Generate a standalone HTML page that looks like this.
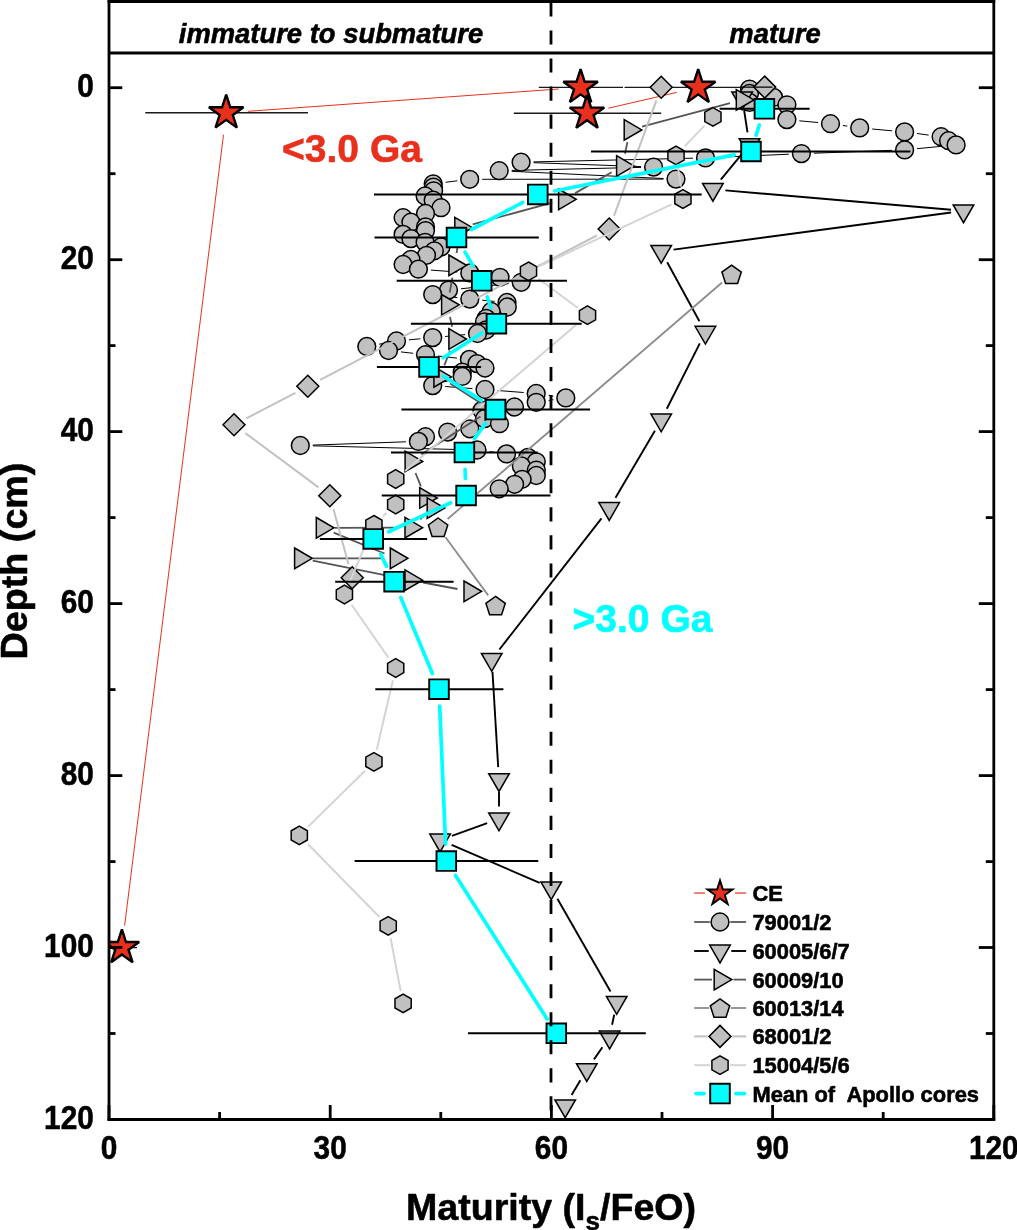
<!DOCTYPE html><html><head><meta charset="utf-8"><title>Maturity vs Depth</title>
<style>html,body{margin:0;padding:0;background:#fff}svg{display:block}text{font-family:"Liberation Sans",Arial,sans-serif;font-weight:bold;fill:#000;stroke:#000;stroke-width:0.55px;stroke-linejoin:round}</style></head><body>
<svg width="1017" height="1230" viewBox="0 0 1017 1230">
<rect width="1017" height="1230" fill="#fff"/>
<defs><clipPath id="pa"><rect x="109.5" y="54" width="884" height="1066"/></clipPath></defs>
<g clip-path="url(#pa)">
<g stroke="#1a1a1a" stroke-width="1.4">
<line x1="107.0" y1="947.6" x2="137.0" y2="947.6"/>
<line x1="145.3" y1="112.7" x2="308.0" y2="112.7"/>
<line x1="538.8" y1="87.4" x2="623.0" y2="87.4"/>
<line x1="513.8" y1="113.2" x2="661.2" y2="113.2"/>
<line x1="624.5" y1="87.4" x2="773.0" y2="87.4"/>
</g>
<g stroke="#e8301c" stroke-width="1.0" fill="none" >
<line x1="124.6" y1="925.8" x2="223.5" y2="134.7"/>
<line x1="248.1" y1="111.3" x2="558.7" y2="89.0"/>
<line x1="608.4" y1="108.2" x2="676.8" y2="92.4"/>
</g>
<g fill="#e8301c" stroke="#000" stroke-width="2.4" stroke-linejoin="miter" stroke-miterlimit="2.2">
<polygon points="121.9,929.4 126.0,942.0 139.2,942.0 128.5,949.7 132.6,962.3 121.9,954.6 111.2,962.3 115.3,949.7 104.6,942.0 117.8,942.0"/>
<polygon points="226.2,94.7 230.3,107.3 243.5,107.3 232.8,115.0 236.9,127.6 226.2,119.9 215.5,127.6 219.6,115.0 208.9,107.3 222.1,107.3"/>
<polygon points="580.6,69.2 584.7,81.8 597.9,81.8 587.2,89.5 591.3,102.1 580.6,94.4 569.9,102.1 574.0,89.5 563.3,81.8 576.5,81.8"/>
<polygon points="587.0,95.0 591.1,107.6 604.3,107.6 593.6,115.3 597.7,127.9 587.0,120.2 576.3,127.9 580.4,115.3 569.7,107.6 582.9,107.6"/>
<polygon points="698.2,69.2 702.3,81.8 715.5,81.8 704.8,89.5 708.9,102.1 698.2,94.4 687.5,102.1 691.6,89.5 680.9,81.8 694.1,81.8"/>
</g>
<g stroke="#000" stroke-width="1.0" fill="none" >
<line x1="762.0" y1="103.2" x2="774.4" y2="104.0"/>
<line x1="799.3" y1="120.8" x2="818.1" y2="122.5"/>
<line x1="842.9" y1="125.5" x2="847.3" y2="126.1"/>
<line x1="872.2" y1="129.0" x2="892.1" y2="130.8"/>
<line x1="917.0" y1="133.5" x2="928.7" y2="135.1"/>
<line x1="943.7" y1="146.1" x2="917.0" y2="148.7"/>
<line x1="892.1" y1="150.3" x2="813.9" y2="153.2"/>
<line x1="788.9" y1="154.2" x2="718.0" y2="157.3"/>
<line x1="693.0" y1="158.2" x2="533.6" y2="161.9"/>
<line x1="533.6" y1="162.7" x2="641.1" y2="166.6"/>
<line x1="641.1" y1="167.4" x2="511.7" y2="170.4"/>
<line x1="511.7" y1="171.3" x2="663.5" y2="178.5"/>
<line x1="663.5" y1="179.1" x2="482.2" y2="179.3"/>
<line x1="457.3" y1="180.8" x2="445.6" y2="182.3"/>
<line x1="430.9" y1="270.1" x2="457.3" y2="272.0"/>
<line x1="482.2" y1="274.7" x2="487.6" y2="275.5"/>
<line x1="508.8" y1="283.6" x2="460.9" y2="288.8"/>
<line x1="445.1" y1="296.1" x2="457.4" y2="297.6"/>
<line x1="482.2" y1="300.2" x2="494.6" y2="301.4"/>
<line x1="465.1" y1="334.6" x2="445.1" y2="336.5"/>
<line x1="420.3" y1="338.8" x2="408.9" y2="339.8"/>
<line x1="384.2" y1="343.3" x2="379.1" y2="344.2"/>
<line x1="400.9" y1="351.9" x2="413.1" y2="353.3"/>
<line x1="437.9" y1="356.0" x2="457.0" y2="358.1"/>
<line x1="450.3" y1="380.1" x2="444.6" y2="381.9"/>
<line x1="445.2" y1="386.5" x2="472.5" y2="388.6"/>
<line x1="497.5" y1="390.5" x2="523.7" y2="392.5"/>
<line x1="548.6" y1="395.3" x2="553.4" y2="396.1"/>
<line x1="553.4" y1="399.7" x2="548.6" y2="400.5"/>
<line x1="502.1" y1="408.3" x2="494.4" y2="409.1"/>
<line x1="487.2" y1="425.8" x2="482.1" y2="426.7"/>
<line x1="405.9" y1="441.8" x2="312.8" y2="445.1"/>
<line x1="312.8" y1="445.8" x2="464.5" y2="449.7"/>
<line x1="489.4" y1="451.6" x2="494.1" y2="452.3"/>
</g>
<g fill="#c0c0c0" stroke="#000" stroke-width="1.5">
<circle cx="749.5" cy="89.1" r="8.9"/>
<circle cx="749.5" cy="93.5" r="8.9"/>
<circle cx="773.6" cy="97.4" r="8.9"/>
<circle cx="749.5" cy="102.4" r="8.9"/>
<circle cx="786.9" cy="104.8" r="8.9"/>
<circle cx="786.9" cy="119.6" r="8.9"/>
<circle cx="830.5" cy="123.7" r="8.9"/>
<circle cx="859.7" cy="127.9" r="8.9"/>
<circle cx="904.6" cy="131.9" r="8.9"/>
<circle cx="941.1" cy="136.7" r="8.9"/>
<circle cx="948.6" cy="140.7" r="8.9"/>
<circle cx="956.1" cy="144.9" r="8.9"/>
<circle cx="904.6" cy="149.9" r="8.9"/>
<circle cx="801.4" cy="153.6" r="8.9"/>
<circle cx="705.5" cy="157.9" r="8.9"/>
<circle cx="521.1" cy="162.2" r="8.9"/>
<circle cx="653.6" cy="167.1" r="8.9"/>
<circle cx="499.2" cy="170.7" r="8.9"/>
<circle cx="676.0" cy="179.1" r="8.9"/>
<circle cx="469.7" cy="179.3" r="8.9"/>
<circle cx="433.2" cy="183.8" r="8.9"/>
<circle cx="433.4" cy="187.1" r="8.9"/>
<circle cx="433.6" cy="190.8" r="8.9"/>
<circle cx="425.1" cy="196.0" r="8.9"/>
<circle cx="433.2" cy="200.2" r="8.9"/>
<circle cx="441.0" cy="207.7" r="8.9"/>
<circle cx="425.5" cy="213.5" r="8.9"/>
<circle cx="403.1" cy="217.7" r="8.9"/>
<circle cx="410.9" cy="222.2" r="8.9"/>
<circle cx="425.5" cy="226.9" r="8.9"/>
<circle cx="425.5" cy="230.6" r="8.9"/>
<circle cx="403.1" cy="234.4" r="8.9"/>
<circle cx="410.9" cy="238.6" r="8.9"/>
<circle cx="425.1" cy="242.3" r="8.9"/>
<circle cx="441.0" cy="247.0" r="8.9"/>
<circle cx="434.3" cy="250.8" r="8.9"/>
<circle cx="426.5" cy="255.3" r="8.9"/>
<circle cx="410.9" cy="259.5" r="8.9"/>
<circle cx="403.1" cy="264.5" r="8.9"/>
<circle cx="418.4" cy="269.2" r="8.9"/>
<circle cx="469.8" cy="272.9" r="8.9"/>
<circle cx="500.0" cy="277.3" r="8.9"/>
<circle cx="521.2" cy="282.3" r="8.9"/>
<circle cx="448.5" cy="290.1" r="8.9"/>
<circle cx="432.7" cy="294.6" r="8.9"/>
<circle cx="469.8" cy="299.1" r="8.9"/>
<circle cx="507.0" cy="302.5" r="8.9"/>
<circle cx="507.3" cy="307.0" r="8.9"/>
<circle cx="491.2" cy="311.5" r="8.9"/>
<circle cx="486.2" cy="318.4" r="8.9"/>
<circle cx="484.5" cy="321.8" r="8.9"/>
<circle cx="486.0" cy="330.0" r="8.9"/>
<circle cx="477.5" cy="333.5" r="8.9"/>
<circle cx="432.7" cy="337.6" r="8.9"/>
<circle cx="396.5" cy="341.0" r="8.9"/>
<circle cx="366.8" cy="346.5" r="8.9"/>
<circle cx="388.5" cy="350.5" r="8.9"/>
<circle cx="425.5" cy="354.7" r="8.9"/>
<circle cx="469.4" cy="359.4" r="8.9"/>
<circle cx="477.0" cy="363.6" r="8.9"/>
<circle cx="485.0" cy="368.0" r="8.9"/>
<circle cx="462.2" cy="372.2" r="8.9"/>
<circle cx="462.2" cy="376.4" r="8.9"/>
<circle cx="432.7" cy="385.6" r="8.9"/>
<circle cx="485.0" cy="389.5" r="8.9"/>
<circle cx="536.2" cy="393.5" r="8.9"/>
<circle cx="565.8" cy="397.9" r="8.9"/>
<circle cx="536.2" cy="402.3" r="8.9"/>
<circle cx="514.5" cy="407.0" r="8.9"/>
<circle cx="482.0" cy="410.4" r="8.9"/>
<circle cx="484.5" cy="418.7" r="8.9"/>
<circle cx="499.5" cy="423.7" r="8.9"/>
<circle cx="469.8" cy="428.8" r="8.9"/>
<circle cx="447.7" cy="432.1" r="8.9"/>
<circle cx="425.5" cy="436.7" r="8.9"/>
<circle cx="418.4" cy="441.4" r="8.9"/>
<circle cx="300.3" cy="445.5" r="8.9"/>
<circle cx="477.0" cy="450.0" r="8.9"/>
<circle cx="506.5" cy="453.9" r="8.9"/>
<circle cx="527.9" cy="457.4" r="8.9"/>
<circle cx="536.3" cy="461.8" r="8.9"/>
<circle cx="521.3" cy="465.9" r="8.9"/>
<circle cx="536.3" cy="470.1" r="8.9"/>
<circle cx="536.3" cy="475.5" r="8.9"/>
<circle cx="522.1" cy="479.3" r="8.9"/>
<circle cx="514.6" cy="484.3" r="8.9"/>
<circle cx="499.2" cy="488.8" r="8.9"/>
</g>
<g stroke="#000" stroke-width="1.9" fill="none" >
<line x1="744.1" y1="110.2" x2="747.5" y2="132.3"/>
<line x1="741.6" y1="154.3" x2="720.8" y2="179.6"/>
<line x1="725.4" y1="190.4" x2="951.0" y2="209.7"/>
<line x1="951.1" y1="212.5" x2="673.6" y2="249.6"/>
<line x1="667.2" y1="262.3" x2="699.4" y2="321.2"/>
<line x1="699.8" y1="343.4" x2="666.8" y2="408.7"/>
<line x1="654.9" y1="430.7" x2="615.5" y2="497.7"/>
<line x1="601.5" y1="518.4" x2="499.4" y2="649.5"/>
<line x1="492.5" y1="671.9" x2="498.2" y2="767.1"/>
<line x1="499.0" y1="792.1" x2="499.0" y2="806.4"/>
<line x1="487.2" y1="823.1" x2="451.9" y2="835.8"/>
<line x1="451.6" y1="844.9" x2="539.7" y2="882.9"/>
<line x1="557.4" y1="898.7" x2="610.5" y2="991.5"/>
<line x1="614.2" y1="1014.6" x2="612.1" y2="1024.8"/>
<line x1="602.4" y1="1047.2" x2="594.0" y2="1059.4"/>
<line x1="580.4" y1="1080.3" x2="571.6" y2="1095.1"/>
</g>
<g fill="#c0c0c0" stroke="#000" stroke-width="1.5" stroke-linejoin="miter" >
<polygon points="731.8,92.0 752.4,92.0 742.1,109.8"/>
<polygon points="739.2,138.7 759.8,138.7 749.5,156.5"/>
<polygon points="702.6,183.4 723.2,183.4 712.9,201.2"/>
<polygon points="953.2,204.9 973.8,204.9 963.5,222.7"/>
<polygon points="650.9,245.4 671.5,245.4 661.2,263.2"/>
<polygon points="695.1,326.3 715.7,326.3 705.4,344.1"/>
<polygon points="650.9,414.0 671.5,414.0 661.2,431.8"/>
<polygon points="598.9,502.6 619.5,502.6 609.2,520.4"/>
<polygon points="481.4,653.5 502.0,653.5 491.7,671.3"/>
<polygon points="488.7,773.7 509.3,773.7 499.0,791.5"/>
<polygon points="488.7,813.0 509.3,813.0 499.0,830.8"/>
<polygon points="429.8,834.1 450.4,834.1 440.1,851.9"/>
<polygon points="540.9,881.9 561.5,881.9 551.2,899.7"/>
<polygon points="606.4,996.5 627.0,996.5 616.7,1014.3"/>
<polygon points="599.3,1031.1 619.9,1031.1 609.6,1048.9"/>
<polygon points="576.5,1063.7 597.1,1063.7 586.8,1081.5"/>
<polygon points="554.9,1099.9 575.5,1099.9 565.2,1117.7"/>
</g>
<g stroke="#555" stroke-width="1.8" fill="none" >
<line x1="730.0" y1="103.1" x2="642.1" y2="126.7"/>
<line x1="627.4" y1="142.1" x2="625.0" y2="153.8"/>
<line x1="611.6" y1="172.2" x2="575.2" y2="193.1"/>
<line x1="552.3" y1="202.6" x2="472.7" y2="224.4"/>
<line x1="458.7" y1="240.0" x2="456.6" y2="253.0"/>
<line x1="452.4" y1="277.6" x2="449.7" y2="292.5"/>
<line x1="450.0" y1="317.0" x2="452.1" y2="326.8"/>
<line x1="450.1" y1="350.6" x2="444.3" y2="365.3"/>
<line x1="450.2" y1="383.6" x2="480.5" y2="402.9"/>
<line x1="480.5" y1="416.4" x2="421.4" y2="454.6"/>
<line x1="415.5" y1="473.0" x2="420.9" y2="486.4"/>
<line x1="423.6" y1="516.4" x2="420.2" y2="519.4"/>
<line x1="398.3" y1="527.7" x2="334.6" y2="527.8"/>
<line x1="333.7" y1="532.6" x2="384.5" y2="553.5"/>
<line x1="383.6" y1="558.3" x2="312.9" y2="558.3"/>
<line x1="312.7" y1="560.7" x2="398.5" y2="577.8"/>
<line x1="423.1" y1="582.5" x2="457.5" y2="589.0"/>
</g>
<g fill="#c0c0c0" stroke="#000" stroke-width="1.5" stroke-linejoin="miter" >
<polygon points="736.3,89.6 753.9,99.9 736.3,110.2"/>
<polygon points="624.2,119.6 641.8,129.9 624.2,140.2"/>
<polygon points="616.6,155.7 634.2,166.0 616.6,176.3"/>
<polygon points="558.6,189.0 576.2,199.3 558.6,209.6"/>
<polygon points="454.8,217.4 472.4,227.7 454.8,238.0"/>
<polygon points="448.9,255.0 466.5,265.3 448.9,275.6"/>
<polygon points="441.6,294.5 459.2,304.8 441.6,315.1"/>
<polygon points="448.9,328.7 466.5,339.0 448.9,349.3"/>
<polygon points="433.9,366.6 451.5,376.9 433.9,387.2"/>
<polygon points="485.2,399.3 502.8,409.6 485.2,419.9"/>
<polygon points="405.1,451.1 422.7,461.4 405.1,471.7"/>
<polygon points="419.7,487.7 437.3,498.0 419.7,508.3"/>
<polygon points="427.2,497.8 444.8,508.1 427.2,518.4"/>
<polygon points="405.0,517.4 422.6,527.7 405.0,538.0"/>
<polygon points="316.3,517.5 333.9,527.8 316.3,538.1"/>
<polygon points="390.3,548.0 407.9,558.3 390.3,568.6"/>
<polygon points="294.6,548.0 312.2,558.3 294.6,568.6"/>
<polygon points="405.0,569.9 422.6,580.2 405.0,590.5"/>
<polygon points="464.0,581.0 481.6,591.3 464.0,601.6"/>
</g>
<g stroke="#8c8c8c" stroke-width="1.8" fill="none" >
<line x1="722.1" y1="282.5" x2="447.6" y2="519.0"/>
<line x1="445.5" y1="537.3" x2="488.2" y2="595.4"/>
</g>
<g fill="#c0c0c0" stroke="#000" stroke-width="1.5" stroke-linejoin="miter" >
<polygon points="731.6,265.1 741.3,272.1 737.6,283.5 725.6,283.5 721.9,272.1"/>
<polygon points="438.1,518.0 447.8,525.0 444.1,536.4 432.1,536.4 428.4,525.0"/>
<polygon points="495.6,596.3 505.3,603.3 501.6,614.7 489.6,614.7 485.9,603.3"/>
</g>
<g stroke="#c2c2c2" stroke-width="2.0" fill="none" >
<line x1="656.4" y1="100.4" x2="614.0" y2="215.9"/>
<line x1="596.8" y1="235.5" x2="320.2" y2="379.8"/>
<line x1="295.4" y1="392.8" x2="246.4" y2="418.3"/>
<line x1="245.3" y1="433.1" x2="318.5" y2="487.4"/>
<line x1="333.5" y1="509.2" x2="348.5" y2="564.3"/>
</g>
<g fill="#c0c0c0" stroke="#000" stroke-width="1.5" stroke-linejoin="miter" >
<polygon points="764.7,76.1 775.7,87.1 764.7,98.1 753.7,87.1"/>
<polygon points="661.2,76.3 672.2,87.3 661.2,98.3 650.2,87.3"/>
<polygon points="609.2,218.0 620.2,229.0 609.2,240.0 598.2,229.0"/>
<polygon points="307.8,375.3 318.8,386.3 307.8,397.3 296.8,386.3"/>
<polygon points="234.0,413.8 245.0,424.8 234.0,435.8 223.0,424.8"/>
<polygon points="329.8,484.7 340.8,495.7 329.8,506.7 318.8,495.7"/>
<polygon points="352.2,566.8 363.2,577.8 352.2,588.8 341.2,577.8"/>
</g>
<g stroke="#d4d4d4" stroke-width="2.0" fill="none" >
<line x1="704.3" y1="125.9" x2="684.6" y2="146.4"/>
<line x1="678.0" y1="167.7" x2="680.9" y2="186.7"/>
<line x1="671.6" y1="204.3" x2="539.8" y2="266.0"/>
<line x1="538.5" y1="278.8" x2="577.5" y2="307.7"/>
<line x1="578.0" y1="323.3" x2="405.2" y2="470.9"/>
<line x1="386.6" y1="513.0" x2="383.0" y2="516.3"/>
<line x1="369.0" y1="536.3" x2="349.3" y2="583.0"/>
<line x1="351.6" y1="604.8" x2="388.5" y2="657.7"/>
<line x1="392.9" y1="680.2" x2="376.7" y2="749.7"/>
<line x1="365.0" y1="770.7" x2="308.2" y2="826.6"/>
<line x1="308.1" y1="844.3" x2="379.4" y2="917.0"/>
<line x1="390.6" y1="938.2" x2="400.7" y2="991.1"/>
</g>
<g fill="#c0c0c0" stroke="#000" stroke-width="1.5" stroke-linejoin="miter" >
<polygon points="712.9,107.6 721.0,112.2 721.0,121.6 712.9,126.2 704.8,121.6 704.8,112.2"/>
<polygon points="676.0,146.1 684.1,150.8 684.1,160.1 676.0,164.7 667.9,160.1 667.9,150.8"/>
<polygon points="682.9,189.7 691.0,194.3 691.0,203.7 682.9,208.3 674.8,203.7 674.8,194.3"/>
<polygon points="528.5,262.0 536.6,266.7 536.6,275.9 528.5,280.6 520.4,275.9 520.4,266.7"/>
<polygon points="587.5,305.9 595.6,310.6 595.6,319.8 587.5,324.5 579.4,319.8 579.4,310.6"/>
<polygon points="395.7,469.7 403.8,474.4 403.8,483.6 395.7,488.3 387.6,483.6 387.6,474.4"/>
<polygon points="395.7,495.2 403.8,499.9 403.8,509.1 395.7,513.8 387.6,509.1 387.6,499.9"/>
<polygon points="373.9,515.5 382.0,520.1 382.0,529.4 373.9,534.1 365.8,529.4 365.8,520.1"/>
<polygon points="344.4,585.2 352.5,589.9 352.5,599.1 344.4,603.8 336.3,599.1 336.3,589.9"/>
<polygon points="395.7,658.7 403.8,663.4 403.8,672.6 395.7,677.3 387.6,672.6 387.6,663.4"/>
<polygon points="373.9,752.6 382.0,757.2 382.0,766.5 373.9,771.2 365.8,766.5 365.8,757.2"/>
<polygon points="299.3,826.1 307.4,830.8 307.4,840.0 299.3,844.7 291.2,840.0 291.2,830.8"/>
<polygon points="388.2,916.6 396.3,921.2 396.3,930.5 388.2,935.2 380.1,930.5 380.1,921.2"/>
<polygon points="403.1,994.1 411.2,998.8 411.2,1008.0 403.1,1012.7 395.0,1008.0 395.0,998.8"/>
</g>
<g stroke="#000" stroke-width="1.2">
<line x1="740.0" y1="87.2" x2="772.5" y2="87.2"/>
</g>
<g stroke="#000" stroke-width="2.0">
<line x1="719.6" y1="108.8" x2="809.6" y2="108.8"/>
<line x1="591.0" y1="151.5" x2="910.4" y2="151.5"/>
<line x1="374.0" y1="194.4" x2="701.7" y2="194.4"/>
<line x1="374.5" y1="237.5" x2="538.8" y2="237.5"/>
<line x1="396.7" y1="280.8" x2="567.0" y2="280.8"/>
<line x1="410.9" y1="323.7" x2="581.7" y2="323.7"/>
<line x1="376.9" y1="366.9" x2="481.1" y2="366.9"/>
<line x1="401.4" y1="409.6" x2="590.0" y2="409.6"/>
<line x1="391.0" y1="452.4" x2="537.8" y2="452.4"/>
<line x1="381.7" y1="495.5" x2="550.5" y2="495.5"/>
<line x1="319.8" y1="538.9" x2="427.1" y2="538.9"/>
<line x1="335.2" y1="581.7" x2="453.6" y2="581.7"/>
<line x1="375.3" y1="689.2" x2="503.4" y2="689.2"/>
<line x1="354.6" y1="861.1" x2="538.3" y2="861.1"/>
<line x1="468.0" y1="1033.3" x2="645.8" y2="1033.3"/>
</g>
<g stroke="#00ffff" stroke-width="3.7" fill="none" stroke-linecap="round">
<line x1="759.3" y1="125.0" x2="756.1" y2="135.3"/>
<line x1="734.3" y1="154.9" x2="554.5" y2="191.0"/>
<line x1="522.8" y1="202.4" x2="471.5" y2="229.5"/>
<line x1="465.1" y1="252.2" x2="473.1" y2="266.1"/>
<line x1="487.2" y1="296.9" x2="490.9" y2="307.6"/>
<line x1="482.1" y1="332.9" x2="443.3" y2="357.7"/>
<line x1="443.3" y1="376.1" x2="481.3" y2="400.4"/>
<line x1="485.6" y1="423.3" x2="474.4" y2="438.7"/>
<line x1="465.1" y1="469.4" x2="465.4" y2="478.5"/>
<line x1="450.7" y1="502.7" x2="388.6" y2="531.7"/>
<line x1="380.7" y1="554.2" x2="386.6" y2="566.4"/>
<line x1="400.7" y1="597.4" x2="432.4" y2="673.5"/>
<line x1="439.7" y1="706.2" x2="445.6" y2="844.1"/>
<line x1="455.5" y1="875.4" x2="547.1" y2="1019.0"/>
</g>
<g fill="#00ffff" stroke="#000" stroke-width="1.9" stroke-linejoin="miter" >
<polygon points="754.6,99.0 774.2,99.0 774.2,118.6 754.6,118.6"/>
<polygon points="741.2,141.7 760.8,141.7 760.8,161.3 741.2,161.3"/>
<polygon points="528.0,184.6 547.6,184.6 547.6,204.2 528.0,204.2"/>
<polygon points="446.7,227.7 466.3,227.7 466.3,247.3 446.7,247.3"/>
<polygon points="471.9,271.0 491.5,271.0 491.5,290.6 471.9,290.6"/>
<polygon points="486.6,313.9 506.2,313.9 506.2,333.5 486.6,333.5"/>
<polygon points="419.2,357.1 438.8,357.1 438.8,376.7 419.2,376.7"/>
<polygon points="485.8,399.8 505.4,399.8 505.4,419.4 485.8,419.4"/>
<polygon points="454.6,442.6 474.2,442.6 474.2,462.2 454.6,462.2"/>
<polygon points="456.3,485.7 475.9,485.7 475.9,505.3 456.3,505.3"/>
<polygon points="363.4,529.1 383.0,529.1 383.0,548.7 363.4,548.7"/>
<polygon points="384.3,571.9 403.9,571.9 403.9,591.5 384.3,591.5"/>
<polygon points="429.2,679.4 448.8,679.4 448.8,699.0 429.2,699.0"/>
<polygon points="436.5,851.3 456.1,851.3 456.1,870.9 436.5,870.9"/>
<polygon points="546.5,1023.5 566.1,1023.5 566.1,1043.1 546.5,1043.1"/>
</g>
</g>
<g stroke="#000" stroke-width="2.8" fill="none" stroke-linecap="butt">
<line x1="109.0" y1="0" x2="109.0" y2="1120.9"/>
<line x1="993.8" y1="0" x2="993.8" y2="1120.9"/>
<line x1="107.6" y1="1119.5" x2="995.1999999999999" y2="1119.5"/>
<line x1="109.0" y1="53" x2="993.8" y2="53"/>
<line x1="107.6" y1="1.4" x2="995.1999999999999" y2="1.4" stroke-width="3.4"/>
<line x1="109.0" y1="87.7" x2="122.3" y2="87.7"/>
<line x1="993.8" y1="87.7" x2="978.8" y2="87.7"/>
<line x1="109.0" y1="173.7" x2="115.5" y2="173.7"/>
<line x1="993.8" y1="173.7" x2="985.8" y2="173.7"/>
<line x1="109.0" y1="259.7" x2="122.3" y2="259.7"/>
<line x1="993.8" y1="259.7" x2="978.8" y2="259.7"/>
<line x1="109.0" y1="345.6" x2="115.5" y2="345.6"/>
<line x1="993.8" y1="345.6" x2="985.8" y2="345.6"/>
<line x1="109.0" y1="431.6" x2="122.3" y2="431.6"/>
<line x1="993.8" y1="431.6" x2="978.8" y2="431.6"/>
<line x1="109.0" y1="517.6" x2="115.5" y2="517.6"/>
<line x1="993.8" y1="517.6" x2="985.8" y2="517.6"/>
<line x1="109.0" y1="603.6" x2="122.3" y2="603.6"/>
<line x1="993.8" y1="603.6" x2="978.8" y2="603.6"/>
<line x1="109.0" y1="689.6" x2="115.5" y2="689.6"/>
<line x1="993.8" y1="689.6" x2="985.8" y2="689.6"/>
<line x1="109.0" y1="775.6" x2="122.3" y2="775.6"/>
<line x1="993.8" y1="775.6" x2="978.8" y2="775.6"/>
<line x1="109.0" y1="861.6" x2="115.5" y2="861.6"/>
<line x1="993.8" y1="861.6" x2="985.8" y2="861.6"/>
<line x1="109.0" y1="947.5" x2="122.3" y2="947.5"/>
<line x1="993.8" y1="947.5" x2="978.8" y2="947.5"/>
<line x1="109.0" y1="1033.5" x2="115.5" y2="1033.5"/>
<line x1="993.8" y1="1033.5" x2="985.8" y2="1033.5"/>
<line x1="109.0" y1="1119.5" x2="122.3" y2="1119.5"/>
<line x1="993.8" y1="1119.5" x2="978.8" y2="1119.5"/>
<line x1="109.0" y1="1119.5" x2="109.0" y2="1105.0"/>
<line x1="219.6" y1="1119.5" x2="219.6" y2="1112.0"/>
<line x1="330.2" y1="1119.5" x2="330.2" y2="1105.0"/>
<line x1="440.8" y1="1119.5" x2="440.8" y2="1112.0"/>
<line x1="551.4" y1="1119.5" x2="551.4" y2="1105.0"/>
<line x1="662.0" y1="1119.5" x2="662.0" y2="1112.0"/>
<line x1="772.6" y1="1119.5" x2="772.6" y2="1105.0"/>
<line x1="883.2" y1="1119.5" x2="883.2" y2="1112.0"/>
<line x1="993.8" y1="1119.5" x2="993.8" y2="1105.0"/>
</g>
<line x1="551.0" y1="2.4" x2="551.0" y2="1119.5" stroke="#000" stroke-width="2.8" stroke-dasharray="14.1,13.95"/>
<g font-size="33.3" text-anchor="end">
<text transform="translate(93.8,96.7) scale(0.895,1)">0</text>
<text transform="translate(93.8,268.7) scale(0.895,1)">20</text>
<text transform="translate(93.8,440.6) scale(0.895,1)">40</text>
<text transform="translate(93.8,612.6) scale(0.895,1)">60</text>
<text transform="translate(93.8,784.6) scale(0.895,1)">80</text>
<text transform="translate(93.8,956.5) scale(0.895,1)">100</text>
<text transform="translate(93.8,1128.5) scale(0.895,1)">120</text>
</g>
<g font-size="33.3" text-anchor="middle">
<text transform="translate(109.0,1158.8) scale(0.895,1)">0</text>
<text transform="translate(330.2,1158.8) scale(0.895,1)">30</text>
<text transform="translate(551.4,1158.8) scale(0.895,1)">60</text>
<text transform="translate(772.6,1158.8) scale(0.895,1)">90</text>
<text transform="translate(993.8,1158.8) scale(0.895,1)">120</text>
</g>
<text x="551" y="1219.6" font-size="37.6" text-anchor="middle">Maturity (I<tspan font-size="26" dy="10.5">s</tspan><tspan dy="-10.5">/FeO)</tspan></text>
<text transform="translate(26.8,561) rotate(-90)" font-size="37.7" text-anchor="middle">Depth (cm)</text>
<text x="331" y="42.5" font-size="27.4" font-style="italic" text-anchor="middle">immature to submature</text>
<text x="775" y="42.5" font-size="27.4" font-style="italic" text-anchor="middle">mature</text>
<text x="282" y="162" font-size="38" textLength="140" lengthAdjust="spacingAndGlyphs" style="fill:#e8301c;stroke:#e8301c">&lt;3.0 Ga</text>
<text x="572.5" y="631.8" font-size="38" textLength="140" lengthAdjust="spacingAndGlyphs" style="fill:#00ffff;stroke:#00ffff">&gt;3.0 Ga</text>
<g stroke="#e8301c" stroke-width="1.2"><line x1="694.2" y1="893.0" x2="705.0" y2="893.0"/><line x1="735.0" y1="893.0" x2="746.1" y2="893.0"/></g>
<g stroke="#000" stroke-width="1.2"><line x1="694.2" y1="922.0" x2="709.7" y2="922.0"/><line x1="730.3" y1="922.0" x2="746.1" y2="922.0"/></g>
<g stroke="#000" stroke-width="1.9"><line x1="694.2" y1="951.0" x2="708.7" y2="951.0"/><line x1="731.3" y1="951.0" x2="746.1" y2="951.0"/></g>
<g stroke="#555" stroke-width="1.8"><line x1="694.2" y1="979.6" x2="712.0" y2="979.6"/><line x1="733.5" y1="979.6" x2="746.1" y2="979.6"/></g>
<g stroke="#8c8c8c" stroke-width="1.8"><line x1="694.2" y1="1008.0" x2="709.2" y2="1008.0"/><line x1="730.8" y1="1008.0" x2="746.1" y2="1008.0"/></g>
<g stroke="#c2c2c2" stroke-width="2.0"><line x1="694.2" y1="1036.4" x2="707.7" y2="1036.4"/><line x1="732.3" y1="1036.4" x2="746.1" y2="1036.4"/></g>
<g stroke="#d4d4d4" stroke-width="2.0"><line x1="694.2" y1="1065.2" x2="710.0" y2="1065.2"/><line x1="730.0" y1="1065.2" x2="746.1" y2="1065.2"/></g>
<g stroke="#00ffff" stroke-width="3.7" stroke-linecap="round"><line x1="696" y1="1093.6" x2="704.0" y2="1093.6"/><line x1="736.0" y1="1093.6" x2="744.5" y2="1093.6"/></g>
<g fill="#e8301c" stroke="#000" stroke-width="1.9" stroke-linejoin="miter" >
<polygon points="720.0,880.4 722.9,889.5 732.5,889.5 724.8,895.0 727.7,904.1 720.0,898.5 712.3,904.1 715.2,895.0 707.5,889.5 717.1,889.5"/>
</g>
<g fill="#c0c0c0" stroke="#000" stroke-width="1.5">
<circle cx="720.0" cy="922.0" r="8.9"/>
</g>
<g fill="#c0c0c0" stroke="#000" stroke-width="1.5" stroke-linejoin="miter" >
<polygon points="709.7,945.1 730.3,945.1 720.0,962.9"/>
</g>
<g fill="#c0c0c0" stroke="#000" stroke-width="1.5" stroke-linejoin="miter" >
<polygon points="714.2,969.3 731.8,979.6 714.2,989.9"/>
</g>
<g fill="#c0c0c0" stroke="#000" stroke-width="1.5" stroke-linejoin="miter" >
<polygon points="720.0,998.8 729.7,1005.8 726.0,1017.2 714.0,1017.2 710.3,1005.8"/>
</g>
<g fill="#c0c0c0" stroke="#000" stroke-width="1.5" stroke-linejoin="miter" >
<polygon points="720.0,1025.4 731.0,1036.4 720.0,1047.4 709.0,1036.4"/>
</g>
<g fill="#c0c0c0" stroke="#000" stroke-width="1.5" stroke-linejoin="miter" >
<polygon points="720.0,1055.9 728.1,1060.5 728.1,1069.9 720.0,1074.5 711.9,1069.9 711.9,1060.5"/>
</g>
<g fill="#00ffff" stroke="#000" stroke-width="1.9" stroke-linejoin="miter" >
<polygon points="710.2,1083.8 729.8,1083.8 729.8,1103.4 710.2,1103.4"/>
</g>
<g font-size="21.9" style="stroke-width:0.3px">
<text x="752.4" y="901.0" xml:space="preserve">CE</text>
<text x="752.4" y="930.0" xml:space="preserve">79001/2</text>
<text x="752.4" y="959.0" xml:space="preserve">60005/6/7</text>
<text x="752.4" y="987.6" xml:space="preserve">60009/10</text>
<text x="752.4" y="1016.0" xml:space="preserve">60013/14</text>
<text x="752.4" y="1044.4" xml:space="preserve">68001/2</text>
<text x="752.4" y="1073.2" xml:space="preserve">15004/5/6</text>
<text x="752.4" y="1101.6" xml:space="preserve">Mean of  Apollo cores</text>
</g>
</svg></body></html>
